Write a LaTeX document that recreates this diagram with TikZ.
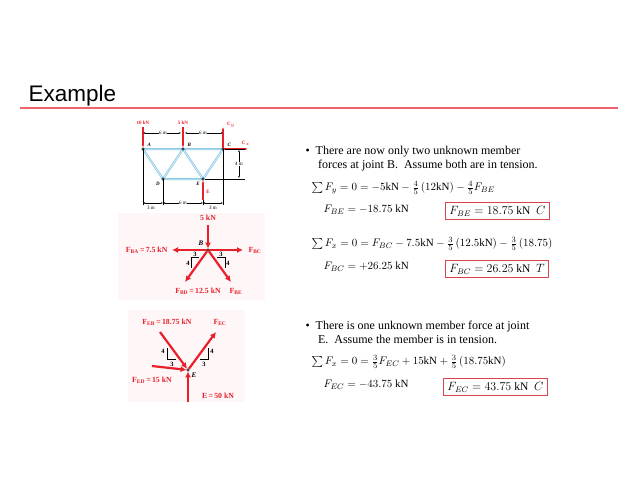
\documentclass[tikz,border=0pt]{standalone}
\usepackage{amsmath}
\usepackage{fontspec}
\setmainfont{Liberation Serif}
\newfontfamily\hv{Liberation Sans}
\usetikzlibrary{arrows.meta}
\definecolor{fr}{HTML}{E8202A}
\definecolor{tb}{HTML}{7FC4E6}
\definecolor{bx}{HTML}{D9434B}
\begin{document}
\begin{tikzpicture}[x=1pt,y=-1pt,
  force/.style={fr,line width=2.2pt,-{Latex[length=6pt,width=6pt]}},
  flab/.style={fr,font=\fontsize{7.8}{8}\selectfont\bfseries},
  mem/.style={tb,line width=2pt},
  dim/.style={black,line width=0.3pt},
  jt/.style={circle,draw,fill=white,inner sep=0.9pt},
  bul/.style={anchor=west,font=\fontsize{12}{14}\selectfont,align=left,inner ysep=0pt},
  eq/.style={anchor=west,font=\fontsize{11}{12}\selectfont,inner ysep=0pt},
  ans/.style={draw=bx,line width=0.8pt,anchor=west,font=\fontsize{11.5}{12}\selectfont,minimum height=17pt,inner xsep=4pt,inner ysep=1pt}]
\useasboundingbox (0,0) rectangle (638,493);
\fill[white] (0,0) rectangle (638,493);
\node[anchor=west,font=\hv\fontsize{22.5}{24}\selectfont] (title) at (25,96) {Example};
\draw[fr!70,line width=1.2pt] (20,108) -- (618,108);
% truss
\fill[fr!4] (118,213) rectangle (265,300);
\fill[fr!4] (128,310) rectangle (245,402);
\coordinate (A) at (143,149); \coordinate (B) at (183,149); \coordinate (C) at (223,149);
\coordinate (D) at (163,179); \coordinate (E) at (203,179);
\draw[mem] (A)--(C) (A)--(D)--(B)--(E)--(C) (D)--(E);
\draw[white,line width=0.5pt] (A)--(C) (A)--(D)--(B)--(E)--(C) (D)--(E);
\foreach \p in {A,B,C,D,E} \node[jt] (j\p) at (\p) {};
\node[font=\fontsize{5}{6}\selectfont\itshape\bfseries,anchor=south west] (lA) at (144,150) {A};
\node[font=\fontsize{5}{6}\selectfont\itshape\bfseries,anchor=south west] (lB) at (184,150) {B};
\node[font=\fontsize{5}{6}\selectfont\itshape\bfseries,anchor=south west] (lC) at (224,150) {C};
\node[font=\fontsize{5}{6}\selectfont\itshape\bfseries] (lD) at (158,184) {D};
\node[font=\fontsize{5}{6}\selectfont\itshape\bfseries] (lE) at (198,184) {E};
\coordinate (a0) at (143,127); \coordinate (b0) at (183,127);
\draw[fr,line width=1.3pt,-{Latex[length=3pt]}] (a0) -- (jA);
\draw[fr,line width=1.3pt,-{Latex[length=3pt]}] (b0) -- (jB);
\node[flab,font=\fontsize{5}{6}\selectfont\bfseries] (t10) at (143,123) {10 kN};
\node[flab,font=\fontsize{5}{6}\selectfont\bfseries] (t5) at (183,123) {5 kN};
\coordinate (cy) at (223,127); \coordinate (cx) at (248,149); \coordinate (ey) at (203,200);
\draw[fr,line width=1.3pt,-{Latex[length=3pt]}] (jC) -- (cy);
\draw[fr,line width=1.3pt,-{Latex[length=3pt]}] (jC) -- (cx);
\draw[fr,line width=1.3pt,-{Latex[length=3pt]}] (ey) -- (jE);
\node[flab,font=\fontsize{5}{6}\selectfont\bfseries] (tcy) at (231,125) {C$_y$};
\node[flab,font=\fontsize{5}{6}\selectfont\bfseries] (tcx) at (246,143) {C$_x$};
\node[flab,font=\fontsize{5}{6}\selectfont\bfseries] (te) at (208,192) {E};
\draw[dim] (143,149)--(143,205) (163,179)--(163,205) (223,149)--(223,205) (203,200)--(203,205);
\draw[dim,<->,>={Latex[length=2pt]}] (143,133)--(181,133);
\draw[dim,<->,>={Latex[length=2pt]}] (185,133)--(223,133);
\node[font=\fontsize{5}{6}\selectfont,fill=white,inner sep=0.5pt] (d1) at (163,133) {6 m};
\node[font=\fontsize{5}{6}\selectfont,fill=white,inner sep=0.5pt] (d2) at (203,133) {6 m};
\draw[dim] (205,179)--(245,179) (225,149)--(245,149);
\draw[dim,<->,>={Latex[length=2pt]}] (239,150)--(239,178);
\node[font=\fontsize{5}{6}\selectfont,fill=white,inner sep=0.5pt] (d3) at (239,164) {4 m};
\draw[dim,<->,>={Latex[length=2pt]}] (143,203)--(163,203);
\draw[dim,<->,>={Latex[length=2pt]}] (163,203)--(203,203);
\draw[dim,<->,>={Latex[length=2pt]}] (203,203)--(223,203);
\node[font=\fontsize{5}{6}\selectfont] (d4) at (151,208) {3 m};
\node[font=\fontsize{5}{6}\selectfont,fill=white,inner sep=0.5pt] (d5) at (183,203) {6 m};
\node[font=\fontsize{5}{6}\selectfont] (d6) at (213,208) {3 m};
% FBD B
\node[jt] (nB) at (208,250) {};
\node[font=\fontsize{7}{8}\selectfont\bfseries\itshape] (lbB) at (201,243) {B};
\coordinate (b5) at (208,225); \coordinate (bA) at (172,250); \coordinate (bC) at (243,250);
\coordinate (bD) at (185,282); \coordinate (bE) at (231,282);
\draw[force] (b5) -- (nB);
\draw[force] (nB) -- (bA);
\draw[force] (nB) -- (bC);
\draw[force] (nB) -- (bD);
\draw[force] (nB) -- (bE);
\node[flab] (f5) at (208,218) {5 kN};
\node[flab,anchor=east] (fba) at (171,250) {F\textsubscript{BA}\,=\,7.5 kN};
\node[flab,anchor=west] (fbc) at (245,250) {F\textsubscript{BC}};
\node[flab] (fbd) at (198,291) {F\textsubscript{BD}\,=\,12.5 kN};
\node[flab] (fbe) at (236,291) {F\textsubscript{BE}};
\draw[line width=0.4pt] (191,257)--(199,257) (191,257)--(191,268) (217,257)--(225,257)--(225,268);
\node[font=\fontsize{6.5}{7}\selectfont\bfseries] (n3a) at (195,254) {3};
\node[font=\fontsize{6.5}{7}\selectfont\bfseries] (n4a) at (188,263) {4};
\node[font=\fontsize{6.5}{7}\selectfont\bfseries] (n3b) at (221,254) {3};
\node[font=\fontsize{6.5}{7}\selectfont\bfseries] (n4b) at (228,263) {4};
% FBD E
\node[jt] (nE) at (188,370) {};
\node[font=\fontsize{7}{8}\selectfont\bfseries\itshape] (lbE) at (194,375) {E};
\coordinate (eB) at (160,332); \coordinate (eC) at (216,332); \coordinate (eD) at (152,366); \coordinate (eE) at (188,402);
\draw[force] (eB) -- (nE);
\draw[force] (nE) -- (eC);
\draw[force] (eD) -- (nE);
\draw[force] (eE) -- (nE);
\node[flab] (feb) at (167,322) {F\textsubscript{EB}\,=\,18.75 kN};
\node[flab] (fec) at (220,322) {F\textsubscript{EC}};
\node[flab] (fed) at (152,380) {F\textsubscript{ED}\,=\,15 kN};
\node[flab] (fee) at (218,396) {E\,=\,50 kN};
\draw[line width=0.4pt] (167,348)--(167,359)--(176,359) (208,348)--(208,359)--(200,359);
\node[font=\fontsize{6.5}{7}\selectfont\bfseries] (m4a) at (163,351) {4};
\node[font=\fontsize{6.5}{7}\selectfont\bfseries] (m3a) at (172,364) {3};
\node[font=\fontsize{6.5}{7}\selectfont\bfseries] (m4b) at (212,351) {4};
\node[font=\fontsize{6.5}{7}\selectfont\bfseries] (m3b) at (204,364) {3};
% text
\node[bul] (t1) at (302,159) {\textbullet\hspace{6pt}There are now only two unknown member\\\hspace{12.5pt}forces at joint B.\ \ Assume both are in tension.};
\node[eq] (e1) at (308,188) {$\sum F_y = 0 = -5\mathrm{kN} - \tfrac45\left(12\mathrm{kN}\right) - \tfrac45 F_{BE}$};
\node[eq] (e2) at (320,210) {$F_{BE} = -18.75\ \mathrm{kN}$};
\node[ans] (a1) at (445,211) {$F_{BE} = 18.75\ \mathrm{kN}\ \ C$};
\node[eq] (e3) at (308,244) {$\sum F_x = 0 = F_{BC} - 7.5\mathrm{kN} - \tfrac35\left(12.5\mathrm{kN}\right) - \tfrac35\left(18.75\right)$};
\node[eq] (e4) at (320,267) {$F_{BC} = +26.25\ \mathrm{kN}$};
\node[ans] (a2) at (445,269) {$F_{BC} = 26.25\ \mathrm{kN}\ \ T$};
\node[bul] (t2) at (302,332) {\textbullet\hspace{6pt}There is one unknown member force at joint\\\hspace{12.5pt}E.\ \ Assume the member is in tension.};
\node[eq] (e5) at (308,362) {$\sum F_x = 0 = \tfrac35 F_{EC} + 15\mathrm{kN} + \tfrac35\left(18.75\mathrm{kN}\right)$};
\node[eq] (e6) at (320,385) {$F_{EC} = -43.75\ \mathrm{kN}$};
\node[ans] (a3) at (443,387) {$F_{EC} = 43.75\ \mathrm{kN}\ \ C$};
\end{tikzpicture}
\end{document}
